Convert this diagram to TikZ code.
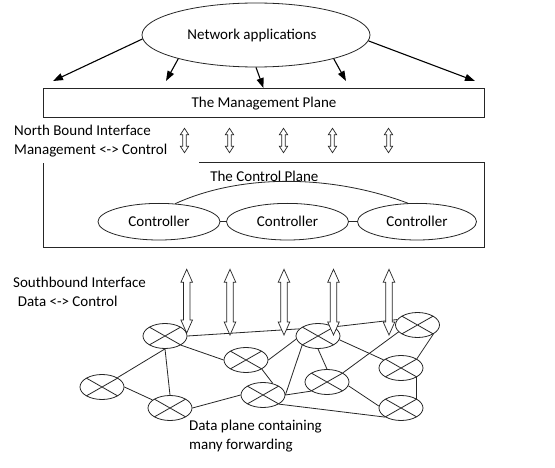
\documentclass[tikz,border=0pt]{standalone}
\usepackage{fontspec}
\setmainfont{Carlito}
\usetikzlibrary{shapes.geometric,arrows.meta}
\newcommand\DblArr[6]{\draw[dbl] (#1-#4,#2+#6) -- (#1-#5,#2+#6) -- (#1,#2) -- (#1+#5,#2+#6) -- (#1+#4,#2+#6) -- (#1+#4,#3-#6) -- (#1+#5,#3-#6) -- (#1,#3) -- (#1-#5,#3-#6) -- (#1-#4,#3-#6) -- cycle;}
\begin{document}
\begin{tikzpicture}[x=1pt,y=-1pt,
  every node/.style={font=\fontsize{15}{18}\selectfont},
  box/.style={draw=black!85, line width=0.8pt},
  arr/.style={draw=black, line width=1.1pt, -{Triangle[length=10pt,width=7pt]}},
  dbl/.style={draw=black!85, fill=white, line width=0.7pt},
  ctrl/.style={ellipse, draw=black!85, line width=0.8pt, minimum width=122pt, minimum height=36.6pt, inner sep=0pt},
  sw/.style={ellipse, draw=black!85, line width=0.8pt, minimum width=44pt, minimum height=25pt, inner sep=0pt,
    path picture={\draw[black!85, line width=0.8pt] (path picture bounding box.north west) -- (path picture bounding box.south east)
      (path picture bounding box.north east) -- (path picture bounding box.south west);}},
  edge/.style={draw=black!85, line width=0.8pt},
  lbl/.style={anchor=base west, inner sep=0pt}
]
\useasboundingbox (0,0) rectangle (555,468);
\fill[white] (0,0) rectangle (555,468);

% Network applications
\node[ellipse, draw=black!85, line width=0.8pt, minimum width=228pt, minimum height=64pt, inner sep=0pt] (na) at (256,35) {};
\node[anchor=base, inner sep=0pt] (natext) at (252,40) {Network applications};

% Management plane
\node[box, rectangle, minimum width=441pt, minimum height=29.2pt, inner sep=0pt] (mp) at (263.5,103.1) {};
\node[anchor=base, inner sep=0pt] (mptext) at (264,108) {The Management Plane};

\coordinate (t1) at (53,81);
\coordinate (t2) at (166,81);
\coordinate (t4) at (346,81);
\coordinate (t5) at (475,81);
\draw[arr] (na.182) -- (t1);
\draw[arr] (na.197) -- (t2);
\draw[arr] (na.270) -- (mp.north);
\draw[arr] (na.343) -- (t4);
\draw[arr] (na.357) -- (t5);

% labels
\node[lbl] (nb1) at (14,136) {North Bound Interface};
\node[lbl] (nb2) at (14,154.5) {Management <-> Control};
\node[lbl] (sb1) at (13,287.7) {Southbound Interface};
\node[lbl] (sb2) at (17.7,306.7) {Data <-> Control};

% Northbound arrows
\foreach \x in {184.5,229.5,283.5,332.5,388.5} {\DblArr{\x}{128.3}{152.7}{1.8}{4.2}{6.5}}

% Control plane
\draw[box] (199,162.7) -- (484,162.7) -- (484,247) -- (43,247) -- (43,162.7);
\node[anchor=base, inner sep=0pt] (cptext) at (264.4,181.7) {The Control Plane};
\node[ctrl] (c1) at (159,221.7) {Controller};
\node[ctrl] (c2) at (287.5,221.7) {Controller};
\node[ctrl, minimum width=119pt] (c3) at (417,221.7) {Controller};
\draw[edge] (c1) -- (c2);
\draw[edge] (c2) -- (c3);
\draw[edge] (c1.48) .. controls (240,174) and (330,174) .. (c3.116);

% Data plane
\node[sw] (n1) at (165,336) {};
\node[sw] (n2) at (246,360) {};
\node[sw] (n3) at (318,336) {};
\node[sw] (n4) at (417.5,325) {};
\node[sw] (n5) at (102,387) {};
\node[sw] (n6) at (170,408) {};
\node[sw] (n7) at (263,395) {};
\node[sw] (n8) at (327,382) {};
\node[sw] (n9) at (401,368) {};
\node[sw] (n10) at (401,408) {};

\draw[edge] (n1.east) -- (n3.159);
\draw[edge] (n3.north east) -- (n4.165);
\draw[edge] (n1.south east) -- (n2.west);
\draw[edge] (n1.south) -- (n5);
\draw[edge] (n1.south) -- (n6.north);
\draw[edge] (n5.east) -- (n6);
\draw[edge] (n6.east) -- (n7.west);
\draw[edge] (n2.east) -- (n3.188);
\draw[edge] (n2.south east) -- (n7.50);
\draw[edge] (n7.east) -- (n3.south west);
\draw[edge] (n7.east) -- (n8.south west);
\draw[edge] (n8.north east) -- (n4.200);
\draw[edge] (n3.south) -- (n8.north);
\draw[edge] (n3.-10) -- (n9.155);
\draw[edge] (n8.-10) -- (n10.175);
\draw[edge] (n7.south east) -- (n10.south west);
\draw[edge] (n4.south east) -- (n9.north east);
\draw[edge] (n9.south east) -- (n10.north east);

% Southbound arrows
\DblArr{186.7}{269.3}{333}{3.2}{5.8}{13}
\foreach \x in {230,284,333.5,389} {\DblArr{\x}{269.3}{335}{3.2}{5.8}{13}}

\node[lbl] (dp1) at (189,430) {Data plane containing};
\node[lbl] (dp2) at (189,449) {many forwarding};
\end{tikzpicture}
\end{document}
